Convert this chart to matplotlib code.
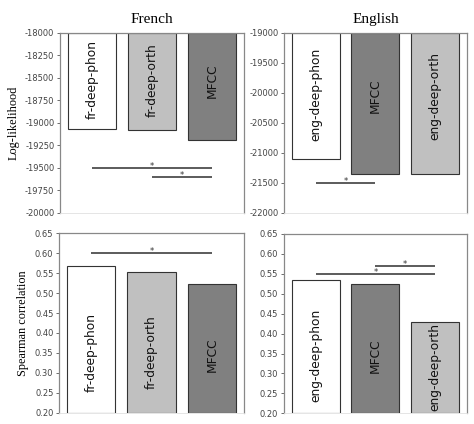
import matplotlib
matplotlib.use("Agg")
import matplotlib.pyplot as plt

# model names per language, in plotted order
fr_models = ["fr-deep-phon", "fr-deep-orth", "MFCC"]
eng_models = ["eng-deep-phon", "MFCC", "eng-deep-orth"]

# log-likelihood (bars hang from the top of the axis)
fr_loglik = [-19067, -19082, -19193]
eng_loglik = [-21110, -21345, -21360]

# spearman correlation
fr_spearman = [0.569, 0.554, 0.523]
eng_spearman = [0.534, 0.524, 0.430]

# significance brackets: (from bar, to bar, level)
fr_loglik_sig = [(0, 2, -19500), (1, 2, -19600)]
eng_loglik_sig = [(0, 1, -21500)]
fr_spearman_sig = [(0, 2, 0.60)]
eng_spearman_sig = [(0, 2, 0.55), (1, 2, 0.57)]

fr_loglik_ticks = list(range(-18000, -20001, -250))
eng_loglik_ticks = list(range(-19000, -22001, -500))
spearman_ticks = [0.20, 0.25, 0.30, 0.35, 0.40, 0.45, 0.50, 0.55, 0.60, 0.65]


def bar_color(name):
    if "phon" in name:
        return "white"
    if "orth" in name:
        return "#c0c0c0"
    return "#808080"


def draw_panel(ax, models, values, sig, ticks, ylim, hang, label_y, tick_fmt):
    x = range(len(models))
    cols = [bar_color(m) for m in models]
    base = ylim[1] if hang else ylim[0]
    ax.bar(x, [v - base for v in values], bottom=base, width=0.8,
           color=cols, edgecolor="#333333", linewidth=0.8)
    for i, m in enumerate(models):
        ax.text(i, label_y[i], m, rotation=90, ha="center", va="center",
                fontsize=8.8, color="#111111")
    for a, b, lvl in sig:
        ax.plot([a, b], [lvl, lvl], color="#404040", lw=1.2, solid_capstyle="butt")
        ax.annotate("*", xy=((a + b) / 2, lvl), xytext=(0, 1.2),
                    textcoords="offset points", ha="center", va="center",
                    fontsize=6, color="#333333")
    ax.set_xlim(-0.53, 2.53)
    ax.set_ylim(*ylim)
    ax.set_yticks(ticks)
    ax.set_yticklabels([tick_fmt(t) for t in ticks])
    ax.set_xticks([])
    ax.tick_params(axis="y", labelsize=6, colors="#555555", length=2.5, width=0.6,
                   labelcolor="#444444", pad=1.5)
    for s in ["left", "right", "top"]:
        ax.spines[s].set_color("#888888")
        ax.spines[s].set_linewidth(0.9)
    ax.spines["bottom"].set_color("#e0e0e0")
    ax.spines["bottom"].set_linewidth(0.6)


plt.rcParams["axes.unicode_minus"] = False
fig = plt.figure(figsize=(4.74, 4.24), dpi=100)

ax1 = fig.add_axes([0.1266, 0.498, 0.388, 0.4245])
ax2 = fig.add_axes([0.599, 0.498, 0.386, 0.4245])
ax3 = fig.add_axes([0.1245, 0.0267, 0.390, 0.423])
ax4 = fig.add_axes([0.599, 0.0252, 0.386, 0.423])

int_fmt = lambda t: "%d" % t
dec_fmt = lambda t: "%.2f" % t

draw_panel(ax1, fr_models, fr_loglik, fr_loglik_sig, fr_loglik_ticks,
           (-20000, -18000), True, [-18520, -18520, -18530], int_fmt)
draw_panel(ax2, eng_models, eng_loglik, eng_loglik_sig, eng_loglik_ticks,
           (-22000, -19000), True, [-20030, -20050, -20060], int_fmt)
draw_panel(ax3, fr_models, fr_spearman, fr_spearman_sig, spearman_ticks,
           (0.20, 0.65), False, [0.351, 0.351, 0.345], dec_fmt)
draw_panel(ax4, eng_models, eng_spearman, eng_spearman_sig, spearman_ticks,
           (0.20, 0.65), False, [0.345, 0.345, 0.315], dec_fmt)

serif = ["Liberation Serif", "DejaVu Serif"]
ax1.set_title("French", family=serif, fontsize=11, pad=7)
ax2.set_title("English", family=serif, fontsize=11, pad=7)
ax1.set_ylabel("Log-likelihood", family=serif, fontsize=8.8, labelpad=4)
ax3.set_ylabel("Spearman correlation", family=serif, fontsize=8.8, labelpad=4)

fig.savefig("out.png", dpi=100)
